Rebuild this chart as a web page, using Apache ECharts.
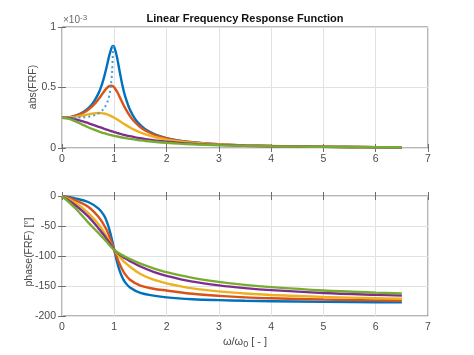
<!DOCTYPE html>
<html><head><meta charset="utf-8">
<script src="https://cdn.jsdelivr.net/npm/echarts@6/dist/echarts.min.js"></script>
<style>html,body{margin:0;padding:0;background:#fff}#c{width:474px;height:355px}</style>
</head><body><div id="c"></div>
<script>
// ---- data (abs values in units of 1e-3) ----
const omegaMag = [0,0.1,0.2,0.3,0.4,0.5,0.6,0.7,0.75,0.8,0.85,0.9,0.95,0.975,1.0,1.05,1.1,1.15,1.2,1.3,1.4,1.5,1.6,1.8,2.0,2.25,2.5,2.75,3.0,3.5,4.0,4.5,5.0,5.5,6.0,6.5];
const absBlue   = [0.25,0.2524,0.2599,0.2734,0.2946,0.3268,0.3760,0.4533,0.5081,0.5778,0.6634,0.7572,0.8300,0.8428,0.8333,0.7548,0.6391,0.5294,0.4398,0.3154,0.2386,0.1882,0.1532,0.1085,0.0817,0.0607,0.0471,0.0378,0.0311,0.0221,0.0166,0.0130,0.0104,0.0085,0.0071,0.0061];
const absOrange = [0.25,0.2522,0.2590,0.2711,0.2895,0.3162,0.3537,0.4042,0.4339,0.4646,0.4925,0.5118,0.5156,0.5102,0.5,0.4674,0.4247,0.3792,0.3360,0.2637,0.2104,0.1715,0.1426,0.1036,0.0791,0.0593,0.0463,0.0373,0.0307,0.0220,0.0165,0.0129,0.0104,0.0085,0.0071,0.0060];
const absYellow = [0.25,0.2513,0.2549,0.2609,0.2687,0.2774,0.2850,0.2887,0.2879,0.2850,0.2796,0.2718,0.2618,0.2561,0.25,0.2370,0.2232,0.2093,0.1956,0.1699,0.1473,0.1280,0.1119,0.0870,0.0693,0.0538,0.0430,0.0351,0.0293,0.0212,0.0161,0.0126,0.0102,0.0084,0.0070,0.0060];
const absPurple = [0.25,0.2480,0.2421,0.2328,0.2207,0.2065,0.1912,0.1755,0.1677,0.1600,0.1526,0.1453,0.1383,0.1349,0.1316,0.1252,0.1190,0.1132,0.1077,0.0975,0.0884,0.0803,0.0732,0.0612,0.0516,0.0424,0.0353,0.0298,0.0255,0.0191,0.0149,0.0119,0.0097,0.0080,0.0068,0.0058];
const absGreen  = [0.25,0.2448,0.2310,0.2120,0.1914,0.1715,0.1533,0.1372,0.1298,0.1230,0.1167,0.1107,0.1052,0.1025,0.1,0.0952,0.0906,0.0864,0.0825,0.0752,0.0689,0.0632,0.0582,0.0497,0.0429,0.0360,0.0306,0.0263,0.0228,0.0175,0.0139,0.0112,0.0092,0.0077,0.0066,0.0056];
const peakOmega = [0.977,0.959,0.935,0.906,0.869,0.825,0.771,0.707,0.628,0.529,0.394,0.141];
const peakAbs   = [0.843,0.638,0.516,0.437,0.381,0.341,0.311,0.289,0.272,0.260,0.253,0.2501];

const omegaPh  = [0,0.25,0.5,0.7,0.8,0.85,0.9,0.95,1,1.05,1.1,1.15,1.2,1.3,1.5,1.75,2,2.5,3,3.5,4,5,6,6.5];
const phBlue   = [0,-4,-10,-21,-32,-41,-54,-71,-90,-109,-124,-135,-143,-152.5,-161.5,-166,-169,-172,-173.6,-174.7,-175.4,-176.4,-177,-177.3];
const phOrange = [0,-7,-18,-35,-48,-56,-66,-78,-90,-102,-113,-122,-129.5,-139.5,-149.5,-154.5,-157.5,-163,-166.5,-169,-170.5,-172.5,-174,-174.5];
const phYellow = [0,-11,-28,-47,-60,-67,-75,-82.5,-90,-96,-101,-106,-110.5,-118,-130,-139.5,-145.5,-154,-159,-162.5,-165,-168.2,-170.3,-171.3];
const phPurple = [0,-15,-34,-54,-65,-71,-77,-83.5,-90,-94,-97.5,-100.5,-103.5,-108.5,-117.5,-126.4,-133,-142.7,-149,-153.5,-156.9,-161.6,-164.7,-165.9];
const phGreen  = [0,-20,-44,-62,-71,-75.7,-81,-85.8,-90,-93.2,-96,-98.5,-100.8,-105.2,-112.8,-120.5,-126.9,-136.4,-143.1,-148.1,-151.9,-157.4,-161.1,-162.5];

const xTickLabels = [0,1,2,3,4,5,6,7];
const absTickLabels = [0,0.5,1];
const phaseTickLabels = [-200,-150,-100,-50,0];

// ---- chart ----
const FONT = '"Liberation Sans", Arial, Helvetica, sans-serif';
const TXT = '#4a4a4a';
const AX = '#6e6e6e';
const GRIDC = '#e2e2e2';
const COLORS = ['#0072BD','#D95319','#EDB120','#7E2F8E','#77AC30'];
const pairs = (xs, ys) => xs.map((x, i) => [x, ys[i]]);

function xAx(gi, top) {
  return {
    type: 'value', gridIndex: gi, position: top ? 'top' : 'bottom',
    min: xTickLabels[0], max: xTickLabels[xTickLabels.length - 1],
    interval: xTickLabels[1] - xTickLabels[0],
    axisLine: { show: false },
    axisTick: { show: true, inside: true, length: 4, lineStyle: { color: AX } },
    axisLabel: { show: !top, color: TXT, fontSize: 10.5, fontFamily: FONT, margin: 6 },
    splitLine: { show: !top, lineStyle: { color: GRIDC, width: 1 } }
  };
}
function yAx(gi, right, ticks) {
  return {
    type: 'value', gridIndex: gi, position: right ? 'right' : 'left',
    min: ticks[0], max: ticks[ticks.length - 1], interval: ticks[1] - ticks[0],
    axisLine: { show: false },
    axisTick: { show: true, inside: true, length: 4, lineStyle: { color: AX } },
    axisLabel: { show: !right, color: TXT, fontSize: 10.5, fontFamily: FONT, margin: 6 },
    splitLine: { show: !right, lineStyle: { color: GRIDC, width: 1 } }
  };
}
function line(xi, yi, xs, ys, color, z) {
  return {
    type: 'line', xAxisIndex: xi, yAxisIndex: yi, data: pairs(xs, ys),
    showSymbol: false, smooth: 0.35, z: z,
    lineStyle: { color: color, width: 2.4 }
  };
}

const chart = echarts.init(document.getElementById('c'));
chart.setOption({
  animation: false,
  backgroundColor: '#ffffff',
  grid: [
    { left: 62, top: 27, width: 366, height: 121, show: true, borderColor: AX, borderWidth: 1, backgroundColor: '#fff' },
    { left: 62, top: 196, width: 366, height: 120, show: true, borderColor: AX, borderWidth: 1, backgroundColor: '#fff' }
  ],
  xAxis: [xAx(0, false), xAx(0, true), xAx(1, false), xAx(1, true)],
  yAxis: [yAx(0, false, absTickLabels), yAx(0, true, absTickLabels), yAx(1, false, phaseTickLabels), yAx(1, true, phaseTickLabels)],
  series: [
    line(0, 0, omegaMag, absBlue, COLORS[0], 2),
    line(0, 0, omegaMag, absOrange, COLORS[1], 3),
    line(0, 0, omegaMag, absYellow, COLORS[2], 4),
    line(0, 0, omegaMag, absPurple, COLORS[3], 5),
    line(0, 0, omegaMag, absGreen, COLORS[4], 6),
    {
      type: 'line', xAxisIndex: 0, yAxisIndex: 0, data: pairs(peakOmega, peakAbs),
      showSymbol: false, smooth: 0.3, z: 7,
      lineStyle: { color: '#3f9ed6', width: 2, type: [2, 3] }
    },
    line(2, 2, omegaPh, phBlue, COLORS[0], 2),
    line(2, 2, omegaPh, phOrange, COLORS[1], 3),
    line(2, 2, omegaPh, phYellow, COLORS[2], 4),
    line(2, 2, omegaPh, phPurple, COLORS[3], 5),
    line(2, 2, omegaPh, phGreen, COLORS[4], 6)
  ],
  graphic: [
    { type: 'text', x: 245, y: 19, z: 100,
      style: { text: 'Linear Frequency Response Function', fill: '#111', font: 'bold 11px ' + FONT, align: 'center', verticalAlign: 'middle' } },
    { type: 'text', x: 63, y: 20, z: 100,
      style: { text: '{a|×10}{b|-3}', align: 'left', verticalAlign: 'middle',
        rich: { a: { fontSize: 10, fontFamily: FONT, fill: '#6a6a6a', lineHeight: 12 },
                b: { fontSize: 8, fontFamily: FONT, fill: '#6a6a6a', verticalAlign: 'top', lineHeight: 12, padding: [0, 0, 6, 0] } } } },
    { type: 'text', x: 33, y: 87, rotation: Math.PI / 2, z: 100,
      style: { text: 'abs(FRF)', fill: TXT, fontSize: 10.5, fontFamily: FONT, align: 'center', verticalAlign: 'middle' } },
    { type: 'text', x: 29, y: 252, rotation: Math.PI / 2, z: 100,
      style: { text: 'phase(FRF) [°]', fill: TXT, fontSize: 10.5, fontFamily: FONT, align: 'center', verticalAlign: 'middle' } },
    { type: 'text', x: 245, y: 342, z: 100,
      style: { text: '{a|ω/ω}{b|0}{a| [ - ]}', align: 'center', verticalAlign: 'middle',
        rich: { a: { fontSize: 11, fontFamily: FONT, fill: TXT, lineHeight: 14 },
                b: { fontSize: 9, fontFamily: FONT, fill: TXT, lineHeight: 14, padding: [6, 0, 0, 0] } } } }
  ]
});
</script>
</body></html>
